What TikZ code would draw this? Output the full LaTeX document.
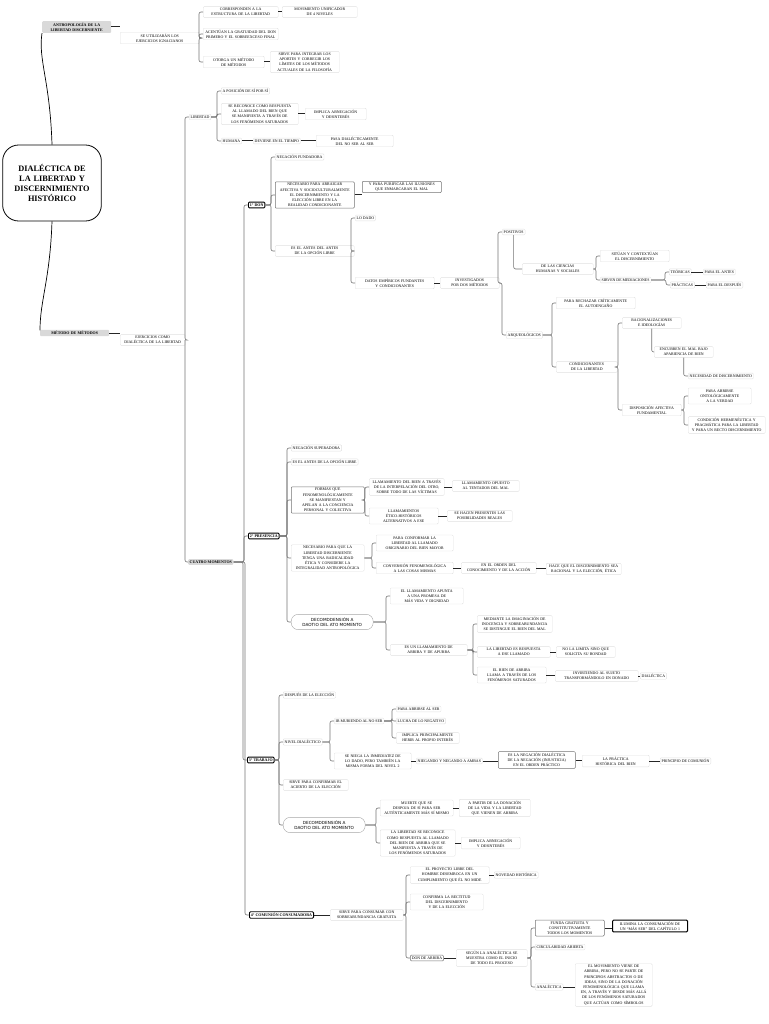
\documentclass[tikz,border=0pt]{standalone}
\usepackage{fontspec}
\setmainfont{Liberation Serif}
\newfontfamily\decofont{DejaVu Sans}
\usetikzlibrary{positioning}
\hyphenpenalty=10000 \exhyphenpenalty=10000
\newcommand\brn[2]{\draw[link] (#1.east) -| ([xshift=-4pt]#2.west) -- (#2.west);}
\newcommand\lnk[2]{\draw[one] (#1.east) -- (#1.east -| #2.west);}
\begin{document}
\begin{tikzpicture}[x=1pt,y=-1pt,
    t/.style={font=\fontsize{3.9}{5.2}\selectfont, align=center, inner sep=1.5pt,
      anchor=west, draw=black!12, rounded corners=1pt},
    b/.style={t, draw=black!55, line width=0.5pt},
    m/.style={t, draw=black, line width=0.9pt, font=\fontsize{4}{5}\selectfont\bfseries},
    g/.style={t, draw=none, fill=black!15, font=\fontsize{4}{5.2}\selectfont\bfseries},
    deco/.style={t, draw=black!35, rounded corners=7pt, inner sep=3pt,
      font=\fontsize{4.2}{5.4}\selectfont\decofont},
    link/.style={black!55, line width=0.6pt, rounded corners=2pt},
    one/.style={black!85, line width=1pt}]
\useasboundingbox (0,0) rectangle (768,1024);
% root and first level
\node[draw, line width=0.8pt, rounded corners=16pt, text width=92pt, align=center,
  minimum height=76pt, font=\fontsize{8.3}{10}\selectfont\bfseries] (root) at (52,183)
  {DIALÉCTICA DE LA LIBERTAD Y DISCERNIMIENTO HISTÓRICO};
\node[g, text width=66pt] (antro) at (42,27) {ANTROPOLOGÍA DE LA LIBERTAD DISCERNIENTE};
\node[g, text width=66pt] (metodo) at (40,333) {MÉTODO DE MÉTODOS};
\draw[line width=0.7pt] (root.north) .. controls (50,80) and (38,60) .. (antro.south west);
\draw[line width=0.7pt] (root.south) .. controls (50,280) and (40,300) .. ([yshift=6pt]metodo.south west);

% antropologia
\node[t, text width=76pt] (ignac) at (120,38) {SE UTILIZARÁN LOS EJERCICIOS IGNACIANOS};
\node[t, text width=72pt] (corresp) at (203,12) {CORRESPONDEN A LA ESTRUCTURA DE LA LIBERTAD};
\node[t, text width=72pt] (movim) at (282,12) {MOVIMIENTO UNIFICADOR DE 4 NIVELES};
\node[t, text width=72pt] (acent) at (203,34) {ACENTÚAN LA GRATUIDAD DEL DON PRIMERO Y EL SOBREEXCESO FINAL};
\node[t, text width=58pt] (otorga) at (203,62) {OTORGA UN MÉTODO DE MÉTODOS};
\node[t, text width=66pt] (integ) at (270,62) {SIRVE PARA INTEGRAR LOS APORTES Y CORREGIR LOS LÍMITES DE LOS MÉTODOS ACTUALES DE LA FILOSOFÍA};
\lnk{antro}{ignac}
\brn{ignac}{corresp} \brn{ignac}{acent} \brn{ignac}{otorga}
\lnk{corresp}{movim} \lnk{otorga}{integ}

% metodo de metodos
\node[t, text width=62pt] (ejerc) at (120,340) {EJERCICIOS COMO DIALÉCTICA DE LA LIBERTAD};
\lnk{metodo}{ejerc}
\node[t] (libert) at (189,117) {LIBERTAD};
\node[g] (cuatro) at (188,562) {CUATRO MOMENTOS};
\draw[link] (ejerc.east) -- (185,340) |- (libert.west);
\draw[link] (185,340) |- (cuatro.west);

% libertad
\node[t] (posic) at (221,91) {A POSICIÓN DE SÍ POR SÍ};
\node[t, text width=74pt] (reconoce) at (221,114) {SE RECONOCE COMO RESPUESTA AL LLAMADO DEL BIEN QUE SE MANIFIESTA A TRAVÉS DE LOS FENÓMENOS SATURADOS};
\node[t, text width=58pt] (abneg) at (305,114) {IMPLICA ABNEGACIÓN Y DESINTERÉS};
\node[t] (humana) at (221,141) {HUMANA};
\node[t] (deviene) at (253,141) {DEVIENE EN EL TIEMPO};
\node[t, text width=74pt] (pasa) at (316,141) {PASA DIALÉCTICAMENTE DEL NO SER AL SER};
\brn{libert}{posic} \brn{libert}{reconoce} \brn{libert}{humana}
\lnk{reconoce}{abneg} \lnk{humana}{deviene} \lnk{deviene}{pasa}

% cuatro momentos
\node[m] (don) at (248,205) {1° DON};
\node[m] (presen) at (248,536) {2° PRESENCIA};
\node[m] (trabajo) at (247,760) {3° TRABAJO};
\node[m] (comun) at (249,915) {4° COMUNIÓN CONSUMADORA};
\brn{cuatro}{don} \brn{cuatro}{presen} \brn{cuatro}{trabajo} \brn{cuatro}{comun}

% 1 don
\node[t] (negfund) at (275,157) {NEGACIÓN FUNDADORA};
\node[b, text width=76pt] (arraig) at (275,195) {NECESARIO PARA ARRAIGAR AFECTIVA Y SOCIOCULTURALMENTE EL DISCERNIMIENTO Y LA ELECCIÓN LIBRE EN LA REALIDAD CONDICIONANTE};
\node[b, text width=76pt] (purif) at (362,187) {Y PARA PURIFICAR LAS ILUSIONES QUE ENMARCARAN EL MAL};
\node[t, text width=76pt] (antes) at (275,251) {ES EL ANTES DEL ANTES DE LA OPCIÓN LIBRE};
\brn{don}{negfund} \brn{don}{arraig} \brn{don}{antes}
\lnk{arraig}{purif}
\node[t] (dado) at (355,218) {LO DADO};
\node[t, text width=76pt] (datos) at (355,283) {DATOS EMPÍRICOS FUNDANTES Y CONDICIONANTES};
\node[t, text width=56pt] (invest) at (440,283) {INVESTIGADOS POR DOS MÉTODOS};
\brn{antes}{dado} \brn{antes}{datos} \lnk{datos}{invest}
\node[t] (posit) at (502,232) {POSITIVOS};
\node[t] (arqueo) at (506,335) {ARQUEOLÓGICOS};
\brn{invest}{posit} \brn{invest}{arqueo}
\node[t, text width=68pt] (cienc) at (522,269) {DE LAS CIENCIAS HUMANAS Y SOCIALES};
\draw[link] (posit.south) |- (cienc.west);
\node[t, text width=66pt] (situan) at (600,256) {SITÚAN Y CONTEXTÚAN EL DISCERNIMIENTO};
\node[t] (sirven) at (600,280) {SIRVEN DE MEDIACIONES};
\brn{cienc}{situan} \brn{cienc}{sirven}
\node[t] (teor) at (669,272) {TEÓRICAS};
\node[t] (pantes) at (703,272) {PARA EL ANTES};
\node[t] (pract) at (670,285) {PRÁCTICAS};
\node[t] (pdesp) at (706,285) {PARA EL DESPUÉS};
\brn{sirven}{teor} \brn{sirven}{pract} \lnk{teor}{pantes} \lnk{pract}{pdesp}
\node[t, text width=76pt] (rechaz) at (556,303) {PARA RECHAZAR CRÍTICAMENTE EL AUTOENGAÑO};
\node[t, text width=58pt] (condic) at (556,367) {CONDICIONANTES DE LA LIBERTAD};
\brn{arqueo}{rechaz} \brn{arqueo}{condic}
\node[t, text width=56pt] (racion) at (622,323) {RACIONALIZACIONES E IDEOLOGÍAS};
\node[t, text width=56pt] (encub) at (654,352) {ENCUBREN EL MAL BAJO APARIENCIA DE BIEN};
\node[t] (necdis) at (688,376) {NECESIDAD DE DISCERNIMIENTO};
\node[t, text width=56pt] (dispos) at (622,410) {DISPOSICIÓN AFECTIVA FUNDAMENTAL};
\node[t, text width=60pt] (abrirse) at (688,396) {PARA ABRIRSE ONTOLÓGICAMENTE A LA VERDAD};
\node[t, text width=74pt] (hermen) at (688,425) {CONDICIÓN HERMENÉUTICA Y PRAGMÁTICA PARA LA LIBERTAD Y PARA UN RECTO DISCERNIMIENTO};
\brn{condic}{racion} \brn{condic}{dispos}
\draw[link] (racion.south) |- (encub.west);
\draw[link] (encub.south) |- (necdis.west);
\brn{dispos}{abrirse} \brn{dispos}{hermen}

% 2 presencia
\node[t] (negsup) at (291,448) {NEGACIÓN SUPERADORA};
\node[t] (antesop) at (291,462) {ES EL ANTES DE LA OPCIÓN LIBRE};
\node[b, text width=70pt] (formas) at (291,500) {FORMAS QUE FENOMENOLÓGICAMENTE SE MANIFIESTAN Y APELAN A LA CONCIENCIA PERSONAL Y COLECTIVA};
\node[t, text width=70pt] (radical) at (291,558) {NECESARIO PARA QUE LA LIBERTAD DISCERNIENTE TENGA UNA RADICALIDAD ÉTICA Y CONSIDERE LA INTEGRALIDAD ANTROPOLÓGICA};
\node[deco, text width=76pt] (decoa) at (291,622) {DECOMDDENSIÓN A DAOTIO DEL ATO MOMENTO};
\brn{presen}{negsup} \brn{presen}{antesop} \brn{presen}{formas} \brn{presen}{radical} \brn{presen}{decoa}
\node[t, text width=72pt] (llambien) at (369,487) {LLAMAMIENTO DEL BIEN A TRAVÉS DE LA INTERPELACIÓN DEL OTRO, SOBRE TODO DE LAS VÍCTIMAS};
\node[t, text width=64pt] (opuesto) at (452,486) {LLAMAMIENTO OPUESTO AL TENTADOR DEL MAL};
\node[t, text width=66pt] (etico) at (369,516) {LLAMAMIENTOS ÉTICO-HISTÓRICOS ALTERNATIVOS A ESE};
\node[t, text width=62pt] (hacen) at (447,516) {SE HACEN PRESENTES LAS POSIBILIDADES REALES};
\brn{formas}{llambien} \brn{formas}{etico} \lnk{llambien}{opuesto} \lnk{etico}{hacen}
\node[t, text width=74pt] (conform) at (376,543) {PARA CONFORMAR LA LIBERTAD AL LLAMADO ORIGINARIO DEL BIEN MAYOR};
\node[t, text width=74pt] (convers) at (376,568) {CONVERSIÓN FENOMENOLÓGICA A LAS COSAS MISMAS};
\node[t, text width=72pt] (orden) at (461,568) {EN EL ORDEN DEL CONOCIMIENTO Y DE LA ACCIÓN};
\node[t, text width=72pt] (hace) at (546,569) {HACE QUE EL DISCERNIMIENTO SEA RACIONAL Y LA ELECCIÓN, ÉTICA};
\brn{radical}{conform} \brn{radical}{convers} \lnk{convers}{orden} \lnk{orden}{hace}
\node[t, text width=70pt] (apunta) at (390,596) {EL LLAMAMIENTO APUNTA A UNA PROMESA DE MÁS VIDA Y DIGNIDAD};
\node[t, text width=74pt] (arriba) at (390,650) {ES UN LLAMAMIENTO DE ARRIBA Y DE APURBA};
\brn{decoa}{apunta} \brn{decoa}{arriba}
\node[t, text width=72pt] (imagin) at (477,624) {MEDIANTE LA IMAGINACIÓN DE INOCENCIA Y SOBREABUNDANCIA SE DISTINGUE EL BIEN DEL MAL};
\node[t, text width=70pt] (resp) at (477,652) {LA LIBERTAD ES RESPUESTA A ESE LLAMADO};
\node[t, text width=56pt] (limita) at (556,652) {NO LA LIMITA SINO QUE SOLICITA SU BONDAD};
\node[t, text width=66pt] (llama) at (477,675) {EL BIEN DE ARRIBA LLAMA A TRAVÉS DE LOS FENÓMENOS SATURADOS};
\node[t, text width=80pt] (invirt) at (555,676) {INVIRTIENDO AL SUJETO TRANSFORMÁNDOLO EN DONADO};
\node[t] (dialec) at (640,676) {DIALÉCTICA};
\brn{arriba}{imagin} \brn{arriba}{resp} \brn{arriba}{llama}
\lnk{resp}{limita} \lnk{llama}{invirt} \lnk{invirt}{dialec}

% 3 trabajo
\node[t] (despues) at (283,695) {DESPUÉS DE LA ELECCIÓN};
\node[t] (nivel) at (283,742) {NIVEL DIALÉCTICO};
\node[t, text width=62pt] (acierto) at (283,785) {SIRVE PARA CONFIRMAR EL ACIERTO DE LA ELECCIÓN};
\node[deco, text width=76pt] (decob) at (283,825) {DECOMDDENSIÓN A DAOTIO DEL ATO MOMENTO};
\brn{trabajo}{despues} \brn{trabajo}{nivel} \brn{trabajo}{acierto} \brn{trabajo}{decob}
\node[t] (muriendo) at (334,721) {IR MURIENDO AL NO SER};
\node[t, text width=74pt] (niega) at (334,761) {SE NIEGA LA INMEDIATEZ DE LO DADO, PERO TAMBIÉN LA MISMA FORMA DEL NIVEL 2};
\brn{nivel}{muriendo} \brn{nivel}{niega}
\node[t] (abrser) at (396,709) {PARA ABRIRSE AL SER};
\node[t] (lucha) at (396,721) {LUCHA DE LO NEGATIVO};
\node[t, text width=60pt] (herir) at (396,738) {IMPLICA PRINCIPALMENTE HERIR AL PROPIO INTERÉS};
\brn{muriendo}{abrser} \brn{muriendo}{lucha} \brn{muriendo}{herir}
\node[t] (niegando) at (416,761) {NIEGANDO Y NEGANDO A AMBAS};
\node[b, text width=74pt] (negdial) at (498,760) {ES LA NEGACIÓN DIALÉCTICA DE LA NEGACIÓN (INJUSTICIA) EN EL ORDEN PRÁCTICO};
\node[t, text width=64pt] (practica) at (582,761) {LA PRÁCTICA HISTÓRICA DEL BIEN};
\node[t] (princ) at (660,761) {PRINCIPIO DE COMUNIÓN};
\lnk{niega}{niegando} \lnk{niegando}{negdial} \lnk{negdial}{practica} \lnk{practica}{princ}
\node[t, text width=70pt] (muerte) at (380,808) {MUERTE QUE SE DESPOJA DE SÍ PARA SER AUTÉNTICAMENTE MÁS SÍ MISMO};
\node[t, text width=68pt] (donac) at (459,808) {A PARTIR DE LA DONACIÓN DE LA VIDA Y LA LIBERTAD QUE VIENEN DE ARRIBA};
\node[t, text width=72pt] (reconb) at (380,843) {LA LIBERTAD SE RECONOCE COMO RESPUESTA AL LLAMADO DEL BIEN DE ARRIBA QUE SE MANIFIESTA A TRAVÉS DE LOS FENÓMENOS SATURADOS};
\node[t, text width=56pt] (abnegb) at (461,843) {IMPLICA ABNEGACIÓN Y DESINTERÉS};
\brn{decob}{muerte} \brn{decob}{reconb} \lnk{muerte}{donac} \lnk{reconb}{abnegb}

% 4 comunion
\node[t, text width=70pt] (consum) at (330,915) {SIRVE PARA CONSUMAR CON SOBREABUNDANCIA GRATUITA};
\lnk{comun}{consum}
\node[t, text width=76pt] (proyec) at (410,875) {EL PROYECTO LIBRE DEL HOMBRE DESEMBOCA EN UN CUMPLIMIENTO QUE ÉL NO MIDE};
\node[t] (novedad) at (494,875) {NOVEDAD HISTÓRICA};
\node[t, text width=70pt] (confirma) at (410,902) {CONFIRMA LA RECTITUD DEL DISCERNIMIENTO Y DE LA ELECCIÓN};
\node[b] (donarr) at (410,958) {DON DE ARRIBA};
\brn{consum}{proyec} \brn{consum}{confirma} \brn{consum}{donarr} \lnk{proyec}{novedad}
\node[t, text width=68pt] (segun) at (456,958) {SEGÚN LA ANALÉCTICA SE MUESTRA COMO EL INICIO DE TODO EL PROCESO};
\lnk{donarr}{segun}
\node[b, text width=66pt] (funda) at (535,928) {FUNDA GRATUITA Y CONSTITUTIVAMENTE TODOS LOS MOMENTOS};
\node[t, draw=black, line width=1pt, text width=72pt] (ilumina) at (612,926) {ILUMINA LA CONSUMACIÓN DE UN ``MÁS SER'' DEL CAPÍTULO 1};
\node[t] (circ) at (535,947) {CIRCULARIDAD ABIERTA};
\node[t] (analec) at (535,987) {ANALÉCTICA};
\node[t, text width=74pt] (movarr) at (575,985) {EL MOVIMIENTO VIENE DE ARRIBA, PERO NO SE PARTE DE PRINCIPIOS ABSTRACTOS O DE IDEAS, SINO DE LA DONACIÓN FENOMENOLÓGICA QUE LLAMA EN, A TRAVÉS Y DESDE MÁS ALLÁ DE LOS FENÓMENOS SATURADOS QUE ACTÚAN COMO SÍMBOLOS};
\brn{segun}{funda} \brn{segun}{circ} \brn{segun}{analec}
\lnk{funda}{ilumina} \lnk{analec}{movarr}
\end{tikzpicture}
\end{document}
